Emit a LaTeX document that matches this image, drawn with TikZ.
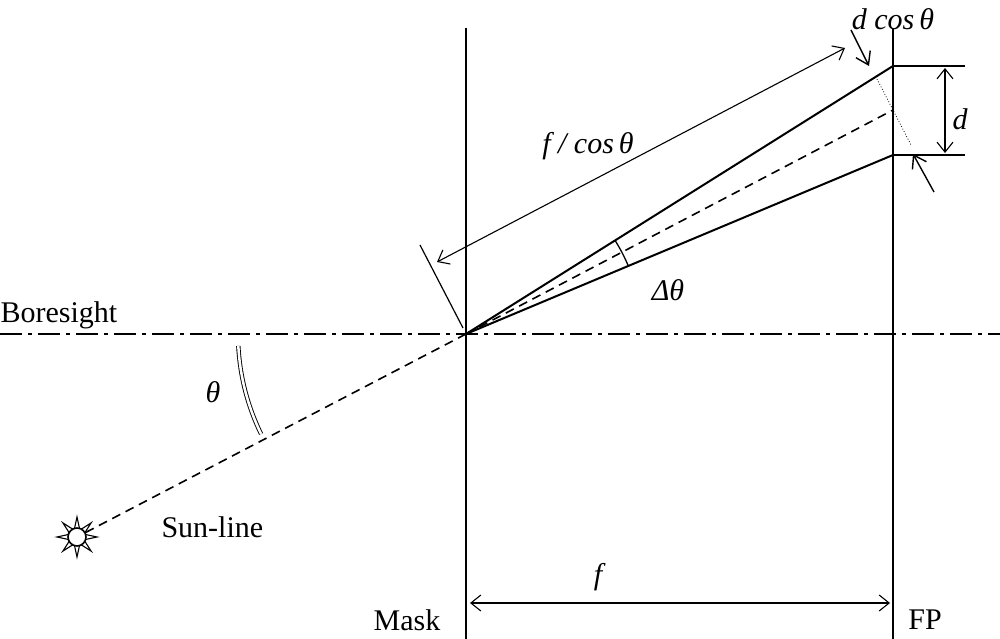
\documentclass[tikz,border=0pt]{standalone}
\usepackage{fontspec}
\setmainfont{Liberation Serif}
\usetikzlibrary{arrows.meta,calc}
\begin{document}
\begin{tikzpicture}[x=1pt,y=1pt,
  lbl/.style={font=\fontsize{30}{32}\selectfont},
  ilbl/.style={font=\itshape\fontsize{30}{32}\selectfont},
  thick2/.style={line width=2pt},
  arr/.style={line width=1.1pt,{Straight Barb[length=10pt,width=16pt]}-{Straight Barb[length=10pt,width=16pt]}},
  arrone/.style={line width=1.4pt,-{Straight Barb[length=12pt,width=16pt]}}]
\useasboundingbox (0,0) rectangle (1000,639);
\coordinate (O) at (466,305);
\coordinate (T) at (893,573);
\coordinate (B) at (893,484);
\coordinate (M) at (893,529);
\coordinate (S) at (77,102);
% vertical lines
\draw[thick2] (466,611) -- (466,0);
\draw[thick2] (893,611) -- (893,0);
% boresight
\draw[line width=1.6pt,dash pattern=on 22pt off 6pt on 4pt off 6pt] (0,305) -- (1000,305);
% rays
\draw[thick2] (O) -- (T);
\draw[thick2] (O) -- (B);
\draw[line width=1.6pt,dash pattern=on 9pt off 6pt] (O) -- (M);
\draw[line width=1.6pt,dash pattern=on 9pt off 6pt] (O) -- (S);
% dotted
\draw[line width=0.8pt,dotted] (877,560) -- (911,494);
% ticks
\draw[line width=1.4pt] (T) -- (965,573);
\draw[line width=1.4pt] (B) -- (965,484);
\draw[arr] (945,571) -- (945,486);
\node[ilbl] (dl) at (960,520) {d};
% d cos theta arrows
\draw[arrone] (851,609) -- (869,573);
\draw[arrone] (934,447) -- (913,485);
\node[ilbl] (dc) at (893,620) {d cos\,θ};
% f/cos arrow
\draw[arr] (845,591) -- (437,377);
\draw[line width=1.2pt] (420,394) -- (463,311);
\node[ilbl] (fc) at (588,493) {f / cos\,θ};
% delta theta arc
\draw[line width=1.3pt] (O) ++(22.7:176) arc (22.7:32.1:176);
\node[ilbl] (dt) at (668,349) {Δθ};
% theta double arc
\draw[double,double distance=2.5pt,line width=0.9pt] (O) ++(183:228) arc (183:206:228);
\node[ilbl] (th) at (213,247) {θ};
% sun
\foreach \a in {0,45,...,315}{
  \draw[line width=1.1pt,fill=white] ($(S)+(\a-16:9)$) -- ($(S)+(\a:20)$) -- ($(S)+(\a+16:9)$);
}
\draw[line width=1.6pt,fill=white] (S) circle (9);
\node[lbl,anchor=west] (sl) at (158,112) {Sun-line};
% f arrow
\draw[arr] (470,36) -- (890,36);
\node[ilbl] (fl) at (598,62) {f};
\node[lbl] (mk) at (407,19) {Mask};
\node[lbl] (fp) at (925,19) {FP};
\node[lbl,anchor=west] (bs) at (-3,324) {Boresight};
\end{tikzpicture}
\end{document}
